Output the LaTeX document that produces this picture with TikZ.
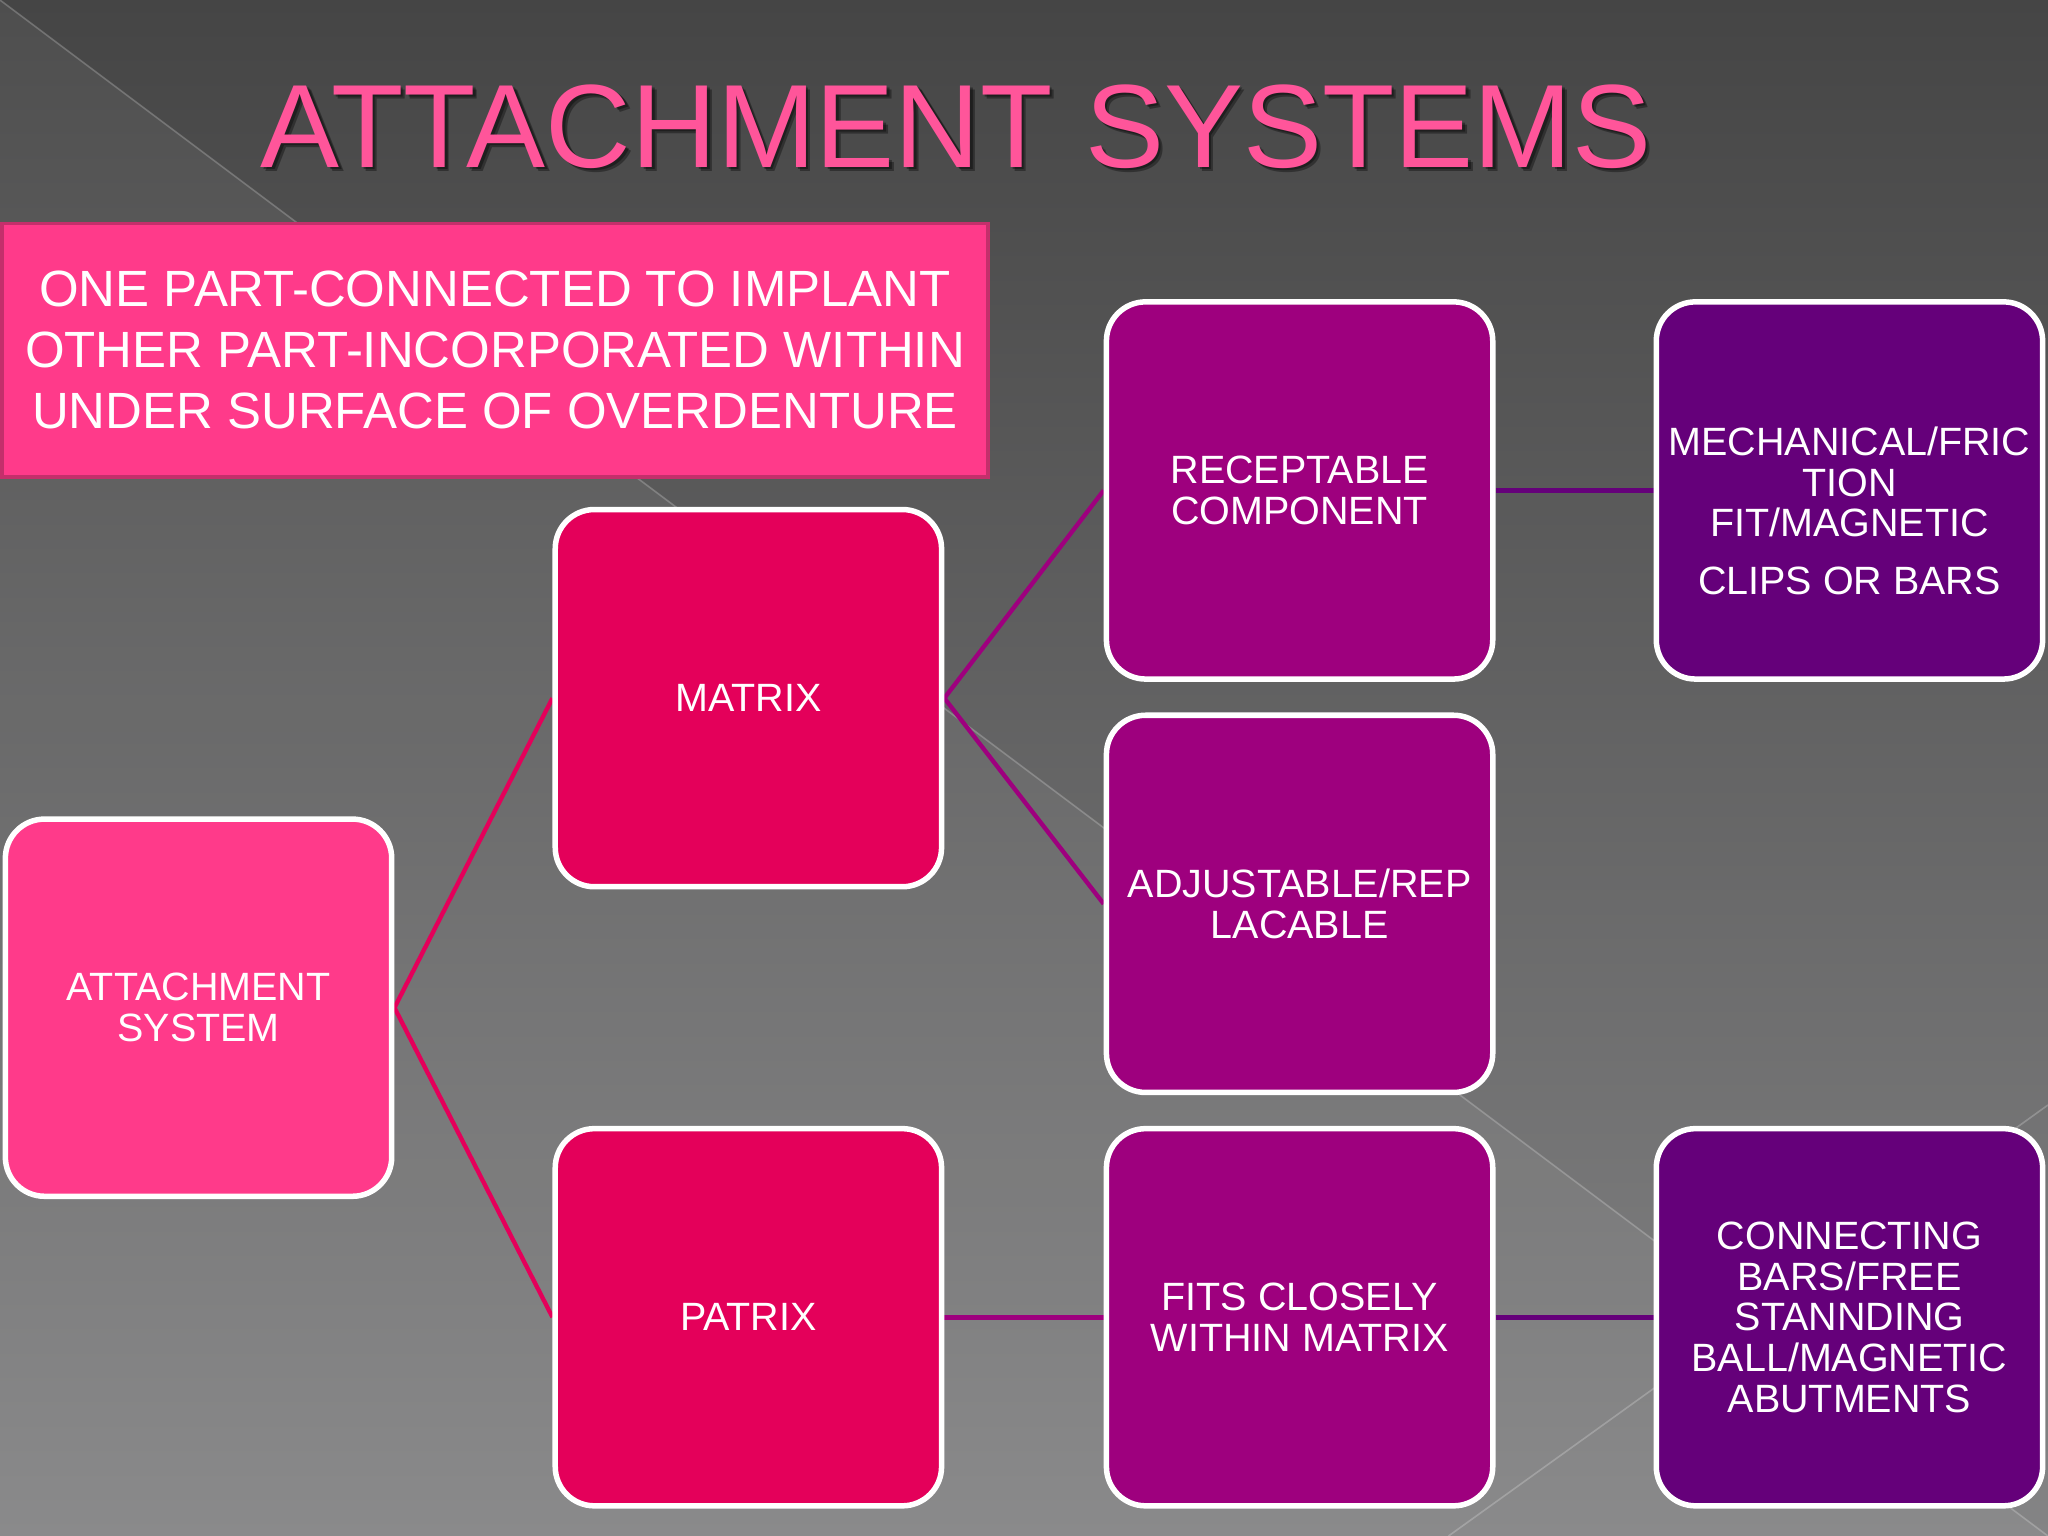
\documentclass[tikz,border=0pt]{standalone}
\usepackage{fontspec}
\setmainfont{Liberation Sans}
\pgfdeclarelayer{bglayer}
\pgfdeclarelayer{linelayer}
\pgfsetlayers{bglayer,linelayer,main}
\definecolor{bgtop}{HTML}{454545}
\definecolor{bgbot}{HTML}{848485}
\definecolor{hotpink}{HTML}{FF3A8A}
\definecolor{pinkrim}{HTML}{C42F6B}
\definecolor{crimson}{HTML}{E4005A}
\definecolor{magpurple}{HTML}{9E007E}
\definecolor{darkpurple}{HTML}{65007A}
\definecolor{titlepink}{HTML}{FF559A}
\begin{document}
\begin{tikzpicture}[x=0.1mm,y=-0.1mm,
  card/.style={draw=white, line width=1.2pt, rounded corners=3mm,
    minimum width=29.58mm, minimum height=28.88mm, inner sep=0pt,
    text=white, align=center, font=\fontsize{8.6}{8.85}\selectfont},
  header/.style={draw=pinkrim, fill=hotpink, line width=0.8pt,
    minimum width=75.5mm, minimum height=19.4mm, inner sep=0pt,
    text=white, align=center, font=\fontsize{11.1}{13.37}\selectfont},
  titletext/.style={anchor=base, inner sep=0pt, font=\fontsize{25.8}{30}\selectfont},
  treeline/.style={line width=0.95pt},
  flatline/.style={line width=1.1pt},
  bgline/.style={white, opacity=0.22, line width=0.35pt}]
\useasboundingbox (0,0) rectangle (1568,1176);
\begin{pgfonlayer}{bglayer}
  \shade[top color=bgtop, bottom color=bgbot] (0,0) rectangle (1568,1176);
  \fill[white, opacity=0.05] (0,0) -- (1568,1176) -- (0,1176) -- cycle;
  \draw[bgline] (0,0) -- (1568,1176);
  \draw[bgline] (1109,1176) -- (1568,846);
\end{pgfonlayer}

% title
\node[titletext, text=black, opacity=0.35] (titleshadow) at (735.5,131.5) {ATTACHMENT SYSTEMS};
\node[titletext, text=black, opacity=0.35] (titleshadowb) at (734,130) {ATTACHMENT SYSTEMS};
\node[titletext, text=titlepink] (title) at (732,128) {ATTACHMENT SYSTEMS};

% header box
\node[header] (hdr) at (379,268) {ONE PART-CONNECTED TO IMPLANT\\OTHER PART-INCORPORATED WITHIN\\UNDER SURFACE OF OVERDENTURE};

% cards
\node[card, fill=hotpink] (att) at (152,771.5) {ATTACHMENT\\SYSTEM};
\node[card, fill=crimson] (matrix) at (573,534.5) {MATRIX};
\node[card, fill=crimson] (patrix) at (573,1008.5) {PATRIX};
\node[card, fill=magpurple] (recept) at (995,375.5) {RECEPTABLE\\COMPONENT};
\node[card, fill=magpurple] (adj) at (995,692) {ADJUSTABLE/REP\\LACABLE};
\node[card, fill=magpurple] (fits) at (995,1008.5) {FITS CLOSELY\\WITHIN MATRIX};
\node[card, fill=darkpurple] (mech) at (1416,375.5) {\rule{0pt}{15.2pt}MECHANICAL/FRIC\\TION\\FIT/MAGNETIC\\[3.7pt]CLIPS OR BARS};
\node[card, fill=darkpurple] (conn) at (1416,1008.5) {CONNECTING\\BARS/FREE\\STANNDING\\BALL/MAGNETIC\\ABUTMENTS};

% connectors
\begin{pgfonlayer}{linelayer}
  \draw[treeline, crimson] (att.east) -- (matrix.west);
  \draw[treeline, crimson] (att.east) -- (patrix.west);
  \draw[treeline, magpurple] (matrix.east) -- (recept.west);
  \draw[treeline, magpurple] (matrix.east) -- (adj.west);
  \draw[flatline, darkpurple] (recept.east) -- (mech.west);
  \draw[flatline, magpurple] (patrix.east) -- (fits.west);
  \draw[flatline, darkpurple] (fits.east) -- (conn.west);
\end{pgfonlayer}
\end{tikzpicture}
\end{document}
